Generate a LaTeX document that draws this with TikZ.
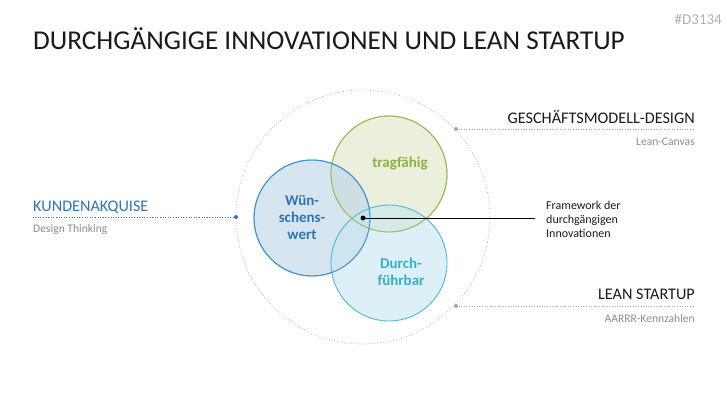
\documentclass[tikz,border=0pt]{standalone}
\usepackage{fontspec}
\setmainfont{Carlito}
\usetikzlibrary{calc}
\definecolor{kblue}{HTML}{2E75B6}
\definecolor{cblue}{HTML}{3E94D1}
\definecolor{fblue}{HTML}{BDD3E8}
\definecolor{cgreen}{HTML}{9BBB59}
\definecolor{fgreen}{HTML}{DCE6C4}
\definecolor{tgreen}{HTML}{8DB048}
\definecolor{ccyan}{HTML}{4BB8D6}
\definecolor{fcyan}{HTML}{C6E6F1}
\definecolor{tcyan}{HTML}{38AECF}
\definecolor{gtext}{HTML}{8C8C8C}
\definecolor{idgray}{HTML}{B0B0B0}
\definecolor{dotgray}{HTML}{A6A6A6}
\definecolor{maintext}{HTML}{1A1A1A}
\tikzset{
  venn/.style={circle, line width=0.9pt, minimum size=116pt, inner sep=0pt, fill opacity=0.6, text opacity=1},
  vlabel/.style={font=\fontsize{15}{17}\selectfont\bfseries, align=center},
  head/.style={font=\fontsize{16.2}{18}\selectfont, inner sep=0pt, text=maintext},
  sub/.style={font=\fontsize{11.6}{13}\selectfont, text=gtext, inner sep=0pt},
  fwtext/.style={font=\fontsize{12}{14}\selectfont, inner sep=0pt, anchor=base west, text=maintext},
  leader/.style={dotgray, line width=0.6pt, dotted},
  pin/.style={circle, fill=dotgray, inner sep=0pt, minimum size=4pt},
}
\begin{document}
\begin{tikzpicture}[x=1pt,y=-1pt]
\useasboundingbox (0,0) rectangle (727,409);
% title
\node[anchor=base west, inner sep=0pt, text=maintext, font=\fontsize{27.2}{30}\selectfont] (title) at (33,50) {DURCHGÄNGIGE INNOVATIONEN UND LEAN STARTUP};
\node[anchor=base east, inner sep=0pt, font=\fontsize{15}{16}\selectfont, text=idgray] (id) at (722,25) {\#D3134};
% big dotted circle
\node[circle, draw=dotgray, dotted, line width=0.7pt, minimum size=254pt, inner sep=0pt] (big) at (363,217) {};
% venn circles
\node[venn, draw=cgreen, fill=fgreen] (g) at (389,174) {};
\node[venn, draw=cblue, fill=fblue] (b) at (312,218) {};
\node[venn, draw=ccyan, fill=fcyan] (c) at (389,263) {};
\draw[cgreen, line width=0.9pt] (g) circle (58pt);
\draw[cblue, line width=0.9pt] (b) circle (58pt);
\node[vlabel, text=tgreen] (gl) at (400,164) {tragfähig};
\node[vlabel, text=kblue] (bl) at (302,217) {Wün-\\schens-\\wert};
\node[vlabel, text=tcyan] (cl) at (401,272) {Durch-\\führbar};
% center marker and framework label
\node[circle, fill=black, inner sep=0pt, minimum size=5pt] (m) at (363,218) {};
\coordinate (mend) at (535,218);
\draw[black, line width=0.8pt] (m.center) -- (mend);
\node[fwtext] (fw1) at (546,209) {Framework der};
\node[fwtext] (fw2) at (546,223) {durchgängigen};
\node[fwtext] (fw3) at (546,237) {Innovationen};
% left: Kundenakquise
\node[pin, fill=kblue] (pl) at (236,217) {};
\coordinate (ll) at (33,217);
\draw[kblue, line width=0.6pt, dotted] (pl.center) -- (ll);
\node[head, anchor=base west, text=kblue] (kh) at (33,211) {KUNDENAKQUISE};
\node[sub, anchor=base west] (ks) at (33,232) {Design Thinking};
% right top: Geschaeftsmodell
\node[pin] (pg) at (456,129) {};
\coordinate (lg) at (695,129);
\draw[leader] (pg.center) -- (lg);
\node[head, anchor=base east] (gh) at (695,124) {GESCHÄFTSMODELL-DESIGN};
\node[sub, anchor=base east] (gs) at (695,145) {Lean-Canvas};
% right bottom: Lean Startup
\node[pin] (ps) at (456,306) {};
\coordinate (ls) at (695,306);
\draw[leader] (ps.center) -- (ls);
\node[head, anchor=base east] (sh) at (695,299) {LEAN STARTUP};
\node[sub, anchor=base east] (ss) at (695,322) {AARRR-Kennzahlen};
\end{tikzpicture}
\end{document}
